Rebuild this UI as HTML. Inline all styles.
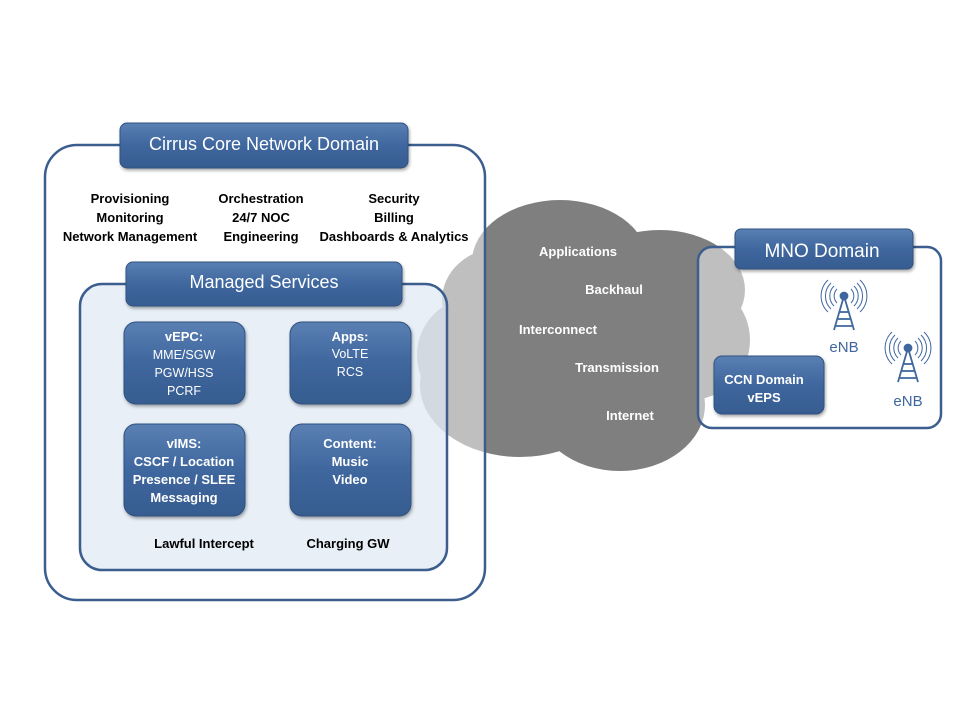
<!DOCTYPE html>
<html><head><meta charset="utf-8"><style>
html,body{margin:0;padding:0;background:#fff;}
svg{display:block;}
text{font-family:"Liberation Sans",sans-serif;}
.b{font-weight:bold;font-size:13px;fill:#000;text-anchor:middle;}
.w{font-weight:bold;font-size:13px;fill:#fff;text-anchor:middle;}
.wn{font-size:12.5px;fill:#fff;text-anchor:middle;}
</style></head><body>
<svg width="960" height="720" viewBox="0 0 960 720" xmlns="http://www.w3.org/2000/svg">
<defs>
<linearGradient id="bg" x1="0" y1="0" x2="0" y2="1">
<stop offset="0" stop-color="#5a7fb3"/><stop offset="0.5" stop-color="#3f679e"/><stop offset="1" stop-color="#365c90"/>
</linearGradient>
<filter id="sh" x="-10%" y="-10%" width="130%" height="140%"><feDropShadow dx="1" dy="2" stdDeviation="1.5" flood-color="#000" flood-opacity="0.35"/></filter>
<g id="tower" stroke="#3f679e" fill="none" stroke-width="1.8">
<circle cx="0" cy="0" r="3.5" fill="#3f679e"/>
<line x1="0" y1="0" x2="-10" y2="34"/><line x1="0" y1="0" x2="10" y2="34"/>
<line x1="-5" y1="16" x2="5" y2="16"/><line x1="-7" y1="23" x2="7" y2="23"/><line x1="-9" y1="30" x2="9" y2="30"/>
<path d="M-7,-7 A10,10 0 0 0 -7,7 M7,-7 A10,10 0 0 1 7,7" stroke-width="1"/>
<path d="M-10,-10 A14,14 0 0 0 -10,10 M10,-10 A14,14 0 0 1 10,10" stroke-width="1"/>
<path d="M-13,-13 A18,18 0 0 0 -13,13 M13,-13 A18,18 0 0 1 13,13" stroke-width="1"/>
<path d="M-16,-16 A22,22 0 0 0 -16,16 M16,-16 A22,22 0 0 1 16,16" stroke-width="1"/>
</g>
</defs>
<!-- cloud -->
<g fill="#7f7f7f">
<ellipse cx="560" cy="262" rx="88" ry="62"/>
<ellipse cx="660" cy="290" rx="85" ry="60"/>
<ellipse cx="690" cy="340" rx="60" ry="60"/>
<ellipse cx="620" cy="405" rx="85" ry="66"/>
<ellipse cx="520" cy="385" rx="100" ry="72"/>
<ellipse cx="475" cy="355" rx="58" ry="58"/>
<ellipse cx="500" cy="300" rx="58" ry="52"/>
<ellipse cx="590" cy="330" rx="110" ry="90"/>
</g>
<!-- left domain box -->
<rect x="45" y="145" width="440" height="455" rx="32" fill="#fff" fill-opacity="0.5" stroke="#3b5e8e" stroke-width="2.5"/>
<rect x="80" y="284" width="367" height="286" rx="22" fill="#dce6f2" fill-opacity="0.65" stroke="#3b5e8e" stroke-width="2.5"/>
<!-- MNO box -->
<rect x="698" y="247" width="243" height="181" rx="14" fill="#fff" fill-opacity="0.5" stroke="#3b5e8e" stroke-width="2.5"/>
<!-- headers -->
<rect x="120" y="123" width="288" height="45" rx="7" fill="url(#bg)" stroke="#2f5280" filter="url(#sh)"/>
<text x="264" y="150" style="font-size:18px;fill:#fff;text-anchor:middle">Cirrus Core Network Domain</text>
<rect x="126" y="262" width="276" height="44" rx="7" fill="url(#bg)" stroke="#2f5280" filter="url(#sh)"/>
<text x="264" y="288" style="font-size:18px;fill:#fff;text-anchor:middle">Managed Services</text>
<rect x="735" y="229" width="178" height="40" rx="6" fill="url(#bg)" stroke="#2f5280" filter="url(#sh)"/>
<text x="822" y="257" style="font-size:19px;fill:#fff;text-anchor:middle">MNO Domain</text>
<!-- top text -->
<text class="b" x="130" y="203">Provisioning</text>
<text class="b" x="130" y="222">Monitoring</text>
<text class="b" x="130" y="241">Network Management</text>
<text class="b" x="261" y="203">Orchestration</text>
<text class="b" x="261" y="222">24/7 NOC</text>
<text class="b" x="261" y="241">Engineering</text>
<text class="b" x="394" y="203">Security</text>
<text class="b" x="394" y="222">Billing</text>
<text class="b" x="394" y="241">Dashboards &amp; Analytics</text>
<!-- cells -->
<rect x="124" y="322" width="121" height="82" rx="12" fill="url(#bg)" stroke="#2f5280" filter="url(#sh)"/>
<text class="w" x="184" y="341">vEPC:</text>
<text class="wn" x="184" y="359">MME/SGW</text>
<text class="wn" x="184" y="377">PGW/HSS</text>
<text class="wn" x="184" y="395">PCRF</text>
<rect x="290" y="322" width="121" height="82" rx="12" fill="url(#bg)" stroke="#2f5280" filter="url(#sh)"/>
<text class="w" x="350" y="341">Apps:</text>
<text class="wn" x="350" y="358">VoLTE</text>
<text class="wn" x="350" y="376">RCS</text>
<rect x="124" y="424" width="121" height="92" rx="12" fill="url(#bg)" stroke="#2f5280" filter="url(#sh)"/>
<text class="w" x="184" y="448">vIMS:</text>
<text class="w" x="184" y="466">CSCF / Location</text>
<text class="w" x="184" y="484">Presence / SLEE</text>
<text class="w" x="184" y="502">Messaging</text>
<rect x="290" y="424" width="121" height="92" rx="12" fill="url(#bg)" stroke="#2f5280" filter="url(#sh)"/>
<text class="w" x="350" y="448">Content:</text>
<text class="w" x="350" y="466">Music</text>
<text class="w" x="350" y="484">Video</text>
<text class="b" x="204" y="548">Lawful Intercept</text>
<text class="b" x="348" y="548">Charging GW</text>
<!-- cloud labels -->
<text class="w" x="578" y="256">Applications</text>
<text class="w" x="614" y="294">Backhaul</text>
<text class="w" x="558" y="334">Interconnect</text>
<text class="w" x="617" y="372">Transmission</text>
<text class="w" x="630" y="420">Internet</text>
<!-- CCN -->
<rect x="714" y="356" width="110" height="58" rx="8" fill="url(#bg)" stroke="#2f5280" filter="url(#sh)"/>
<text class="w" x="764" y="384">CCN Domain</text>
<text class="w" x="764" y="402">vEPS</text>
<!-- towers -->
<use href="#tower" x="844" y="296"/>
<text x="844" y="352" style="font-size:15px;fill:#3f679e;text-anchor:middle">eNB</text>
<use href="#tower" x="908" y="348"/>
<text x="908" y="406" style="font-size:15px;fill:#3f679e;text-anchor:middle">eNB</text>
</svg>
</body></html>
